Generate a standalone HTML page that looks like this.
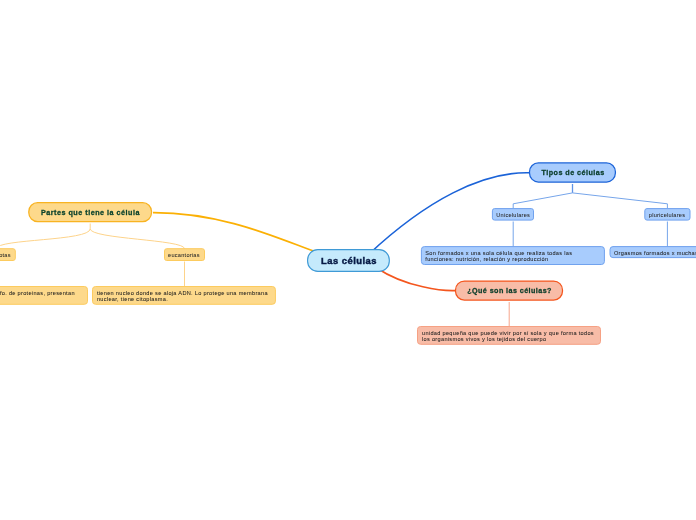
<!DOCTYPE html>
<html><head><meta charset="utf-8"><style>
html,body{margin:0;padding:0;background:#fff;width:696px;height:520px;overflow:hidden;position:relative}
#m{position:absolute;left:0;top:0;width:696px;height:520px;will-change:transform}
#m svg{position:absolute;left:0;top:0}
#m div{position:absolute;white-space:nowrap}
</style></head><body>
<div id="m">
<svg width="696" height="520" viewBox="0 0 696 520">
<path d="M319.52 253.31 C283.53 240.95 225.41 212.35 153 212.6" stroke="#fbb004" stroke-width="1.6" fill="none"/>
<path d="M368.72 254.31 C426.29 200.46 482.31 171.54 529.6 172.8" stroke="#1b63d8" stroke-width="1.6" fill="none"/>
<path d="M377.14 268.21 C405.98 287.45 444.04 291.13 455.5 290.6" stroke="#f4561e" stroke-width="1.6" fill="none"/>
<path d="M90.2 223.5 L90.2 228.8 C90.2 239.2 184.5 239.4 184.5 248.7" stroke="#fdd38a" stroke-width="1.0" fill="none"/>
<path d="M90.2 228.8 C90.2 241.2 -3.5 238.7 -3.5 248.6" stroke="#fdd38a" stroke-width="1.0" fill="none"/>
<path d="M184.5 261.5 L184.5 286.5" stroke="#fdd38a" stroke-width="1.0" fill="none"/>
<path d="M-3.5 261.5 L-3.5 286.5" stroke="#fdd38a" stroke-width="1.0" fill="none"/>
<path d="M572.5 184 L572.5 192.9" stroke="#5e93e6" stroke-width="1.3" fill="none"/>
<path d="M572.5 192.9 L513.2 203.8 L513.2 208.4" stroke="#76a5ea" stroke-width="1.0" fill="none"/>
<path d="M572.5 192.9 L667.4 203.8 L667.4 208.4" stroke="#76a5ea" stroke-width="1.0" fill="none"/>
<path d="M513.2 221.5 L513.2 246.6" stroke="#76a5ea" stroke-width="1.0" fill="none"/>
<path d="M667.4 221.5 L667.4 246.6" stroke="#76a5ea" stroke-width="1.0" fill="none"/>
<path d="M509.2 302 L509.2 326.5" stroke="#f7a68c" stroke-width="1.0" fill="none"/>
<rect x="307.60" y="249.60" width="81.70" height="21.80" rx="10.20" ry="10.20" fill="#c5eafc" stroke="#3f9ad6" stroke-width="1.15"/>
<rect x="28.80" y="202.70" width="122.70" height="18.90" rx="8.80" ry="8.80" fill="#fdd98b" stroke="#f8b322" stroke-width="1.25"/>
<rect x="529.50" y="162.90" width="85.90" height="19.10" rx="8.90" ry="8.90" fill="#a8ccfd" stroke="#1b63d8" stroke-width="1.25"/>
<rect x="455.50" y="281.00" width="107.00" height="19.10" rx="8.90" ry="8.90" fill="#f8bca7" stroke="#f4561e" stroke-width="1.25"/>
<rect x="492.40" y="208.60" width="41.10" height="11.50" rx="2.20" ry="2.20" fill="#a8ccfd" stroke="#70a2ee" stroke-width="1.0"/>
<rect x="644.80" y="208.60" width="45.20" height="11.50" rx="2.20" ry="2.20" fill="#a8ccfd" stroke="#70a2ee" stroke-width="1.0"/>
<rect x="164.50" y="248.70" width="40.00" height="11.80" rx="2.20" ry="2.20" fill="#fdd98b" stroke="#fccb5e" stroke-width="1.0"/>
<rect x="-22.00" y="248.70" width="37.30" height="11.80" rx="2.20" ry="2.20" fill="#fdd98b" stroke="#fccb5e" stroke-width="1.0"/>
<rect x="421.40" y="246.60" width="183.00" height="17.90" rx="3.00" ry="3.00" fill="#a8ccfd" stroke="#70a2ee" stroke-width="1.0"/>
<rect x="610.00" y="246.60" width="115.00" height="11.00" rx="3.00" ry="3.00" fill="#a8ccfd" stroke="#70a2ee" stroke-width="1.0"/>
<rect x="92.50" y="286.50" width="182.90" height="17.80" rx="3.00" ry="3.00" fill="#fdd98b" stroke="#fccb5e" stroke-width="1.0"/>
<rect x="-95.40" y="286.50" width="182.90" height="17.80" rx="3.00" ry="3.00" fill="#fdd98b" stroke="#fccb5e" stroke-width="1.0"/>
<rect x="417.50" y="326.50" width="183.00" height="17.80" rx="3.00" ry="3.00" fill="#f8bca7" stroke="#f6a184" stroke-width="1.0"/>
</svg>
<div style="left:321.00px;top:256.09px;font:bold 9.4px/9.4px 'Liberation Sans', sans-serif;letter-spacing:0.5px;color:#071a45;-webkit-text-stroke:0.45px #071a45">Las células</div>
<div style="left:41.00px;top:209.01px;font:bold 7.2px/7.2px 'Liberation Sans', sans-serif;letter-spacing:0.5px;color:#0c432d;-webkit-text-stroke:0.28px #0c432d">Partes que tiene la célula</div>
<div style="left:541.60px;top:168.51px;font:bold 7.2px/7.2px 'Liberation Sans', sans-serif;letter-spacing:0.45px;color:#0a3d2a;-webkit-text-stroke:0.28px #0a3d2a">Tipos de células</div>
<div style="left:467.20px;top:286.81px;font:bold 7.2px/7.2px 'Liberation Sans', sans-serif;letter-spacing:0.42px;color:#0a3d2a;-webkit-text-stroke:0.28px #0a3d2a">¿Qué son las células?</div>
<div style="left:496.30px;top:213.26px;font:normal 5.6px/5.6px 'Liberation Sans', sans-serif;letter-spacing:0.25px;color:#2a2a2a;-webkit-text-stroke:0.05px #2a2a2a">Unicelulares</div>
<div style="left:648.80px;top:213.26px;font:normal 5.6px/5.6px 'Liberation Sans', sans-serif;letter-spacing:0.25px;color:#2a2a2a;-webkit-text-stroke:0.05px #2a2a2a">pluricelulares</div>
<div style="left:168.10px;top:253.26px;font:normal 5.6px/5.6px 'Liberation Sans', sans-serif;letter-spacing:0.25px;color:#2a2a2a;-webkit-text-stroke:0.05px #2a2a2a">eucantorias</div>
<div style="left:-17.60px;top:253.26px;font:normal 5.6px/5.6px 'Liberation Sans', sans-serif;letter-spacing:0.25px;color:#2a2a2a;-webkit-text-stroke:0.05px #2a2a2a">eucariotas</div>
<div style="left:425.30px;top:251.06px;font:normal 5.6px/5.6px 'Liberation Sans', sans-serif;letter-spacing:0.31px;color:#1e1e1e;-webkit-text-stroke:0.05px #1e1e1e">Son formados x una sola célula que realiza todas las</div>
<div style="left:425.30px;top:257.16px;font:normal 5.6px/5.6px 'Liberation Sans', sans-serif;letter-spacing:0.31px;color:#1e1e1e;-webkit-text-stroke:0.05px #1e1e1e">funciones: nutrición, relación y reproducción</div>
<div style="left:613.90px;top:251.06px;font:normal 5.6px/5.6px 'Liberation Sans', sans-serif;letter-spacing:0.31px;color:#1e1e1e;-webkit-text-stroke:0.05px #1e1e1e">Orgasmos formados x muchas células</div>
<div style="left:96.90px;top:290.86px;font:normal 5.6px/5.6px 'Liberation Sans', sans-serif;letter-spacing:0.31px;color:#1e1e1e;-webkit-text-stroke:0.05px #1e1e1e">tienen nucleo donde se aloja ADN. Lo protege una membrana</div>
<div style="left:96.90px;top:296.96px;font:normal 5.6px/5.6px 'Liberation Sans', sans-serif;letter-spacing:0.31px;color:#1e1e1e;-webkit-text-stroke:0.05px #1e1e1e">nuclear, tiene citoplasma.</div>
<div style="left:-96.80px;top:290.86px;font:normal 5.6px/5.6px 'Liberation Sans', sans-serif;letter-spacing:0.31px;color:#1e1e1e;-webkit-text-stroke:0.05px #1e1e1e">no tienen núcleo, ADN disperso. Info. de proteinas, presentan</div>
<div style="left:422.00px;top:330.86px;font:normal 5.6px/5.6px 'Liberation Sans', sans-serif;letter-spacing:0.31px;color:#1e1e1e;-webkit-text-stroke:0.05px #1e1e1e">unidad pequeña que puede vivir por sí sola y que forma todos</div>
<div style="left:422.00px;top:336.96px;font:normal 5.6px/5.6px 'Liberation Sans', sans-serif;letter-spacing:0.31px;color:#1e1e1e;-webkit-text-stroke:0.05px #1e1e1e">los organismos vivos y los tejidos del cuerpo</div>
</div>
</body></html>
